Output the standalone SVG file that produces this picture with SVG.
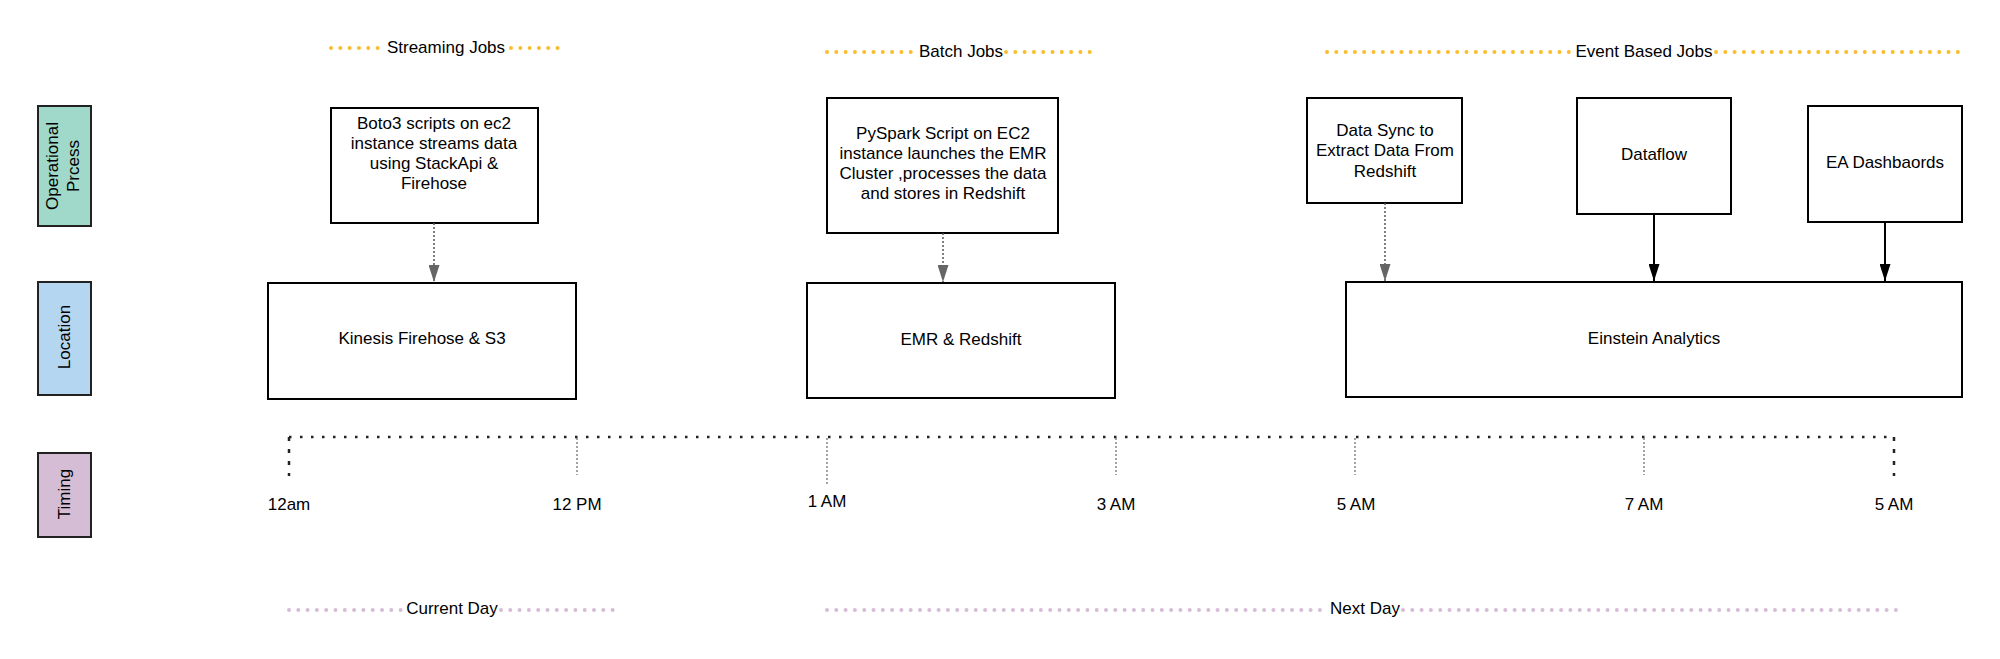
<svg xmlns="http://www.w3.org/2000/svg" width="2000" height="659" viewBox="0 0 2000 659">
<style>
text{font-family:"Liberation Sans",Arial,sans-serif;font-size:17px;fill:#000;text-anchor:middle;dominant-baseline:central}
.box{fill:#fff;stroke:#000;stroke-width:2}
.cat{stroke:#222;stroke-width:2}
.ydot{fill:none;stroke:#fbbd2c;stroke-width:4;stroke-linecap:round;stroke-dasharray:0 9.3}
.pdot{fill:none;stroke:#d6bcd6;stroke-width:4;stroke-linecap:round;stroke-dasharray:0 9.3}
.tl{fill:none;stroke:#222;stroke-width:2.5;stroke-dasharray:2.5 8.5}
.tend{fill:none;stroke:#222;stroke-width:2.5;stroke-dasharray:4 8}
.tick{fill:none;stroke:#666;stroke-width:1.2;stroke-dasharray:2 2}
.dash{fill:none;stroke:#555;stroke-width:1.5;stroke-dasharray:2 2}
.solid{fill:none;stroke:#000;stroke-width:2}
</style>
<defs>
<marker id="ag" viewBox="0 0 17 11" refX="17" refY="5.5" markerWidth="17" markerHeight="11" markerUnits="userSpaceOnUse" orient="auto"><path d="M0,0 L17,5.5 L0,11 Z" fill="#666"/></marker>
<marker id="ab" viewBox="0 0 17 11" refX="17" refY="5.5" markerWidth="17" markerHeight="11" markerUnits="userSpaceOnUse" orient="auto"><path d="M0,0 L17,5.5 L0,11 Z" fill="#000"/></marker>
</defs>
<rect width="2000" height="659" fill="#fff"/>

<g id="cat-operational"><rect class="cat" x="38" y="106" width="53" height="120" fill="#a0d9c9"/><text transform="translate(52,166) rotate(-90)">Operational</text><text transform="translate(73,166) rotate(-90)">Prcess</text></g>
<g id="cat-location"><rect class="cat" x="38" y="282" width="53" height="113" fill="#b4d6f0"/><text transform="translate(64,337) rotate(-90)">Location</text></g>
<g id="cat-timing"><rect class="cat" x="38" y="453" width="53" height="84" fill="#d5bdd6"/><text transform="translate(64,494) rotate(-90)">Timing</text></g>

<g id="hdr-streaming"><path class="ydot" d="M331,48 H383 M511,48 H561"/><text x="446" y="47">Streaming Jobs</text></g>
<g id="hdr-batch"><path class="ydot" d="M827,52 H916 M1006,52 H1096"/><text x="961" y="51">Batch Jobs</text></g>
<g id="hdr-event"><path class="ydot" d="M1327,52 H1572 M1716,52 H1961"/><text x="1644" y="51">Event Based Jobs</text></g>

<g id="n-boto3"><rect class="box" x="331" y="108" width="207" height="115"/><text x="434" y="123">Boto3 scripts on ec2</text><text x="434" y="143">instance streams data</text><text x="434" y="163">using StackApi &amp;</text><text x="434" y="183">Firehose</text></g>
<g id="n-kinesis"><rect class="box" x="268" y="283" width="308" height="116"/><text x="422" y="338">Kinesis Firehose &amp; S3</text></g>
<g id="n-pyspark"><rect class="box" x="827" y="98" width="231" height="135"/><text x="943" y="133">PySpark Script on EC2</text><text x="943" y="153">instance launches the EMR</text><text x="943" y="173">Cluster ,processes the data</text><text x="943" y="193">and stores in Redshift</text></g>
<g id="n-emr"><rect class="box" x="807" y="283" width="308" height="115"/><text x="961" y="339">EMR &amp; Redshift</text></g>
<g id="n-datasync"><rect class="box" x="1307" y="98" width="155" height="105"/><text x="1385" y="130">Data Sync to</text><text x="1385" y="150">Extract Data From</text><text x="1385" y="171">Redshift</text></g>
<g id="n-dataflow"><rect class="box" x="1577" y="98" width="154" height="116"/><text x="1654" y="154">Dataflow</text></g>
<g id="n-eadash"><rect class="box" x="1808" y="106" width="154" height="116"/><text x="1885" y="162">EA Dashbaords</text></g>
<g id="n-einstein"><rect class="box" x="1346" y="282" width="616" height="115"/><text x="1654" y="338">Einstein Analytics</text></g>

<g id="connectors">
<path class="dash" d="M434,223 V282" marker-end="url(#ag)"/>
<path class="dash" d="M943,233 V282" marker-end="url(#ag)"/>
<path class="dash" d="M1385,203 V281" marker-end="url(#ag)"/>
<path class="solid" d="M1654,214 V281" marker-end="url(#ab)"/>
<path class="solid" d="M1885,222 V281" marker-end="url(#ab)"/>
</g>

<g id="timeline">
<path class="tl" d="M289,437 H1894"/>
<path class="tend" d="M289,437 V476 M1894,437 V476"/>
<path class="tick" d="M577,438 V475 M827,438 V485 M1116,438 V475 M1355,438 V475 M1644,438 V475"/>
<text x="289" y="504">12am</text>
<text x="577" y="504">12 PM</text>
<text x="827" y="501">1 AM</text>
<text x="1116" y="504">3 AM</text>
<text x="1356" y="504">5 AM</text>
<text x="1644" y="504">7 AM</text>
<text x="1894" y="504">5 AM</text>
</g>

<g id="day-current"><path class="pdot" d="M289,610 H403 M501,610 H615"/><text x="452" y="608">Current Day</text></g>
<g id="day-next"><path class="pdot" d="M827,610 H1327 M1403,610 H1903"/><text x="1365" y="608">Next Day</text></g>
</svg>
